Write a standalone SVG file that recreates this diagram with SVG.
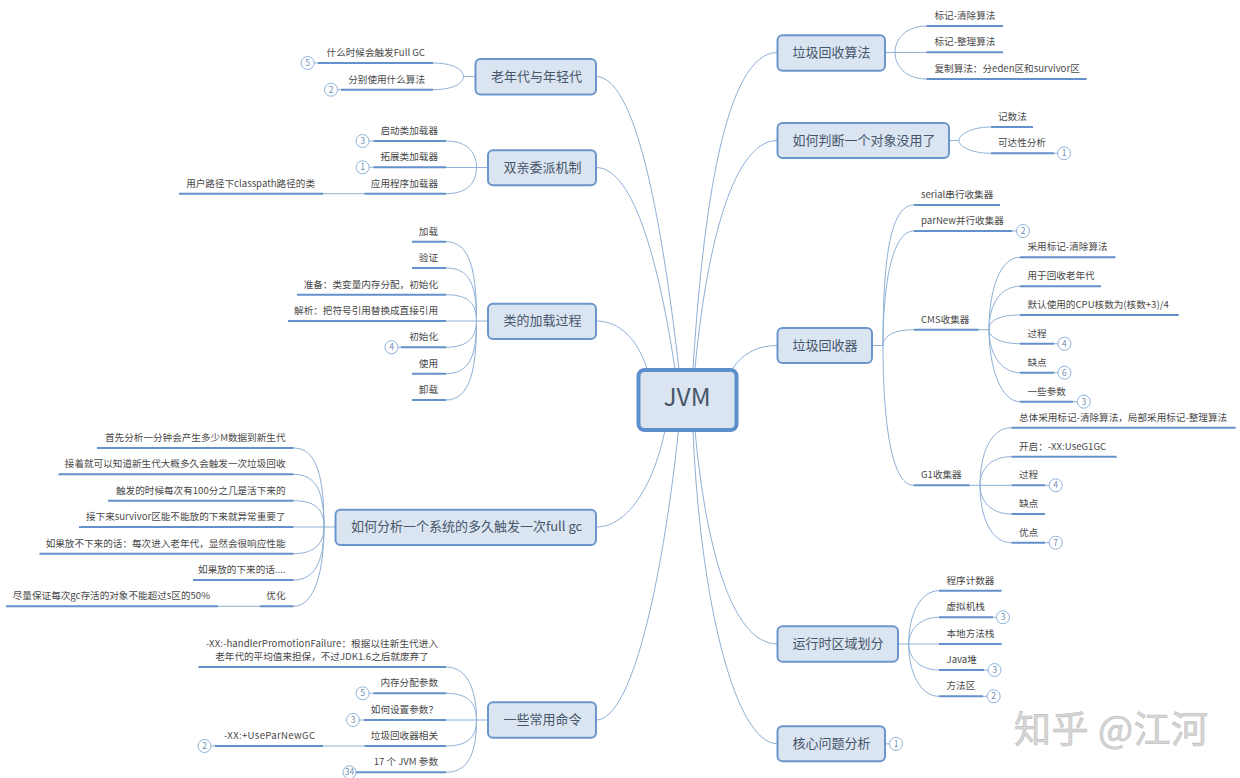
<svg xmlns="http://www.w3.org/2000/svg" width="1240" height="778" viewBox="0 0 1240 778">
<style>
text{font-family:"Noto Sans CJK SC","Noto Sans",sans-serif}
.c{fill:none;stroke:#8db0d6;stroke-width:1}
.b rect{fill:#dbe5f2;stroke:#6b96cb;stroke-width:2}
.b text{font-size:13px;fill:#46566a;text-anchor:start}
.l line{stroke:#6491cb;stroke-width:2}
.l text{font-size:9.6px;fill:#484848}
.e text{text-anchor:end}
.m circle{fill:#fff;stroke:#8fb3da;stroke-width:1}
.m text{font-size:8.5px;fill:#6f8fb3;text-anchor:middle}
</style>
<rect width="1240" height="778" fill="#fff"/>
<g id="connectors" class="c">
<path d="M679 369C665 250 640 76.5 596 76.5"/>
<path d="M675 369C660 270 635 167.5 596 167.5"/>
<path d="M647 369C638 340 620 321 596 321"/>
<path d="M665 430C655 480 630 527 596 527"/>
<path d="M678.5 430C665 560 635 720 596 720"/>
<path d="M693 369C703 210 725 52.5 777.5 52.5"/>
<path d="M695 369C705 260 730 140.5 777.5 140.5"/>
<path d="M732 369C742 355 755 345.5 777.5 345.5"/>
<path d="M695 430C705 540 730 644 777.5 644"/>
<path d="M693 430C700 600 735 743.8 777.5 743.8"/>
<path d="M475.5 76.5H463.5M463.5 76.5C463 69 452 63 433 63M463.5 76.5C463 84 452 89.7 433 89.7M314 63H318M337 89.7H341"/>
<path d="M488 167.5H476.5M476.5 167.5C476.5 155 470 141 446 141M476.5 167.5H446M476.5 167.5C476.5 180 470 193.7 446 193.7M364.5 193.7H323M369 141H373.5M369 167.3H373.5"/>
<path d="M488 321H476.5M476.5 321C476.5 270 470 241.7 446 241.7M476.5 321C476.5 285 470 268 446 268M476.5 321C476.5 305 470 294.7 446 294.7M476.5 321H446M476.5 321C476.5 335 470 347.3 446 347.3M476.5 321C476.5 355 470 373.7 446 373.7M476.5 321C476.5 370 470 400 446 400M398 347.3H401"/>
<path d="M335.5 527H324M324 527C324 480 318 448 293.5 448M324 527C324 495 318 474.3 293.5 474.3M324 527C324 512 318 500.7 293.5 500.7M324 527H293.5M324 527C324 540 318 553.7 293.5 553.7M324 527C324 555 318 580 293.5 580M324 527C324 570 315 606.3 293.5 606.3M260 606.3H218"/>
<path d="M488 720H476.5M476.5 720C476.5 695 470 667 446 667M476.5 720C476.5 705 470 693.3 446 693.3M476.5 720H446M476.5 720C476.5 735 470 746 446 746M476.5 720C476.5 750 470 772.3 446 772.3M364.5 746H323M369 693.3H373.5M359.5 720H364M211 746H215M353 772.3H356"/>
<path d="M885 52.5H895M895 52.5C895 40 905 26 926.5 26M895 52.5H926.5M895 52.5C895 65 905 79 926.5 79"/>
<path d="M949 140.5H959M959 140.5C959 135 970 127 991 127M959 140.5C959 146 970 153.3 991 153.3M1054 153.3H1057.5"/>
<path d="M872 345.5H883M883 345.5C883 265 889 205 913.8 205M883 345.5C883 285 892 231 913.8 231M883 345.5C883 337 892 329.7 913.8 329.7M883 345.5C883 415 890 485.3 913.8 485.3M1012 231H1016.5"/>
<path d="M978.6 329.7H989M989 329.7C989 290 1000 257.3 1020 257.3M989 329.7C989 305 1000 286.3 1020 286.3M989 329.7C989 320 1000 315 1020 315M989 329.7C989 337 1000 343.7 1020 343.7M989 329.7C989 352 1000 372.7 1020 372.7M989 329.7C989 365 1000 401.7 1020 401.7M1054 343.7H1058M1054 372.7H1058M1073 401.7H1077.5"/>
<path d="M969.5 485.3H980M980 485.3C980 455 990 427.7 1011.5 427.7M980 485.3C980 470 990 456.7 1011.5 456.7M980 485.3H1011.5M980 485.3C980 500 990 514 1011.5 514M980 485.3C980 515 990 542.7 1011.5 542.7M1045 485.3H1049M1045 542.7H1049"/>
<path d="M898 644H908.7M908.7 644C908.7 615 920 590.7 939 590.7M908.7 644C908.7 630 920 617.3 939 617.3M908.7 644H939M908.7 644C908.7 658 920 670 939 670M908.7 644C908.7 672 920 696.3 939 696.3M993 617.3H996.5M984 670H988M983 696.3H987"/>
<path d="M885 743.8H889.5"/>
</g>

<g id="jvm"><rect x="638.5" y="370" width="98" height="60" rx="6" fill="#dbe5f2" stroke="#5d8fcd" stroke-width="4"/><text x="687" y="406" font-size="24.5" fill="#46566a" text-anchor="middle">JVM</text></g>

<g id="b1" class="b"><rect x="475.5" y="59" width="120.5" height="35.5" rx="5"/><text x="491" y="80.5">老年代与年轻代</text></g>
<g id="b2" class="b"><rect x="488" y="150.3" width="108" height="35" rx="5"/><text x="503.5" y="171.5">双亲委派机制</text></g>
<g id="b3" class="b"><rect x="488" y="303.7" width="108" height="35.3" rx="5"/><text x="503.5" y="325">类的加载过程</text></g>
<g id="b4" class="b"><rect x="335.5" y="509.7" width="260.5" height="35.3" rx="5"/><text x="351" y="531">如何分析一个系统的多久触发一次full gc</text></g>
<g id="b5" class="b"><rect x="488" y="702.3" width="108" height="35.4" rx="5"/><text x="503.5" y="724">一些常用命令</text></g>
<g id="b6" class="b"><rect x="777.5" y="35.3" width="107.5" height="35.4" rx="5"/><text x="792.5" y="56.5">垃圾回收算法</text></g>
<g id="b7" class="b"><rect x="777.5" y="123" width="171.5" height="35" rx="5"/><text x="792.5" y="144.5">如何判断一个对象没用了</text></g>
<g id="b8" class="b"><rect x="777.5" y="328" width="94.5" height="35" rx="5"/><text x="792.5" y="349.5">垃圾回收器</text></g>
<g id="b9" class="b"><rect x="777.5" y="626.3" width="120.5" height="35.4" rx="5"/><text x="792.5" y="648">运行时区域划分</text></g>
<g id="b10" class="b"><rect x="777.5" y="726.3" width="107.5" height="35" rx="5"/><text x="792.5" y="747.8">核心问题分析</text></g>
<g id="m10" class="m"><circle cx="896" cy="743.8" r="6.5"/><text x="896" y="746.8">1</text></g>

<g id="l1" class="l e"><line x1="318" y1="63" x2="433" y2="63"/><text x="425" y="56">什么时候会触发Full GC</text></g>
<g id="m1" class="m"><circle cx="307.6" cy="63" r="6.5"/><text x="307.6" y="66">5</text></g>
<g id="l2" class="l e"><line x1="341" y1="89.7" x2="433" y2="89.7"/><text x="425" y="82.7">分别使用什么算法</text></g>
<g id="m2" class="m"><circle cx="331" cy="89.7" r="6.5"/><text x="331" y="92.7">2</text></g>

<g id="l3" class="l e"><line x1="373.5" y1="141" x2="446" y2="141"/><text x="438" y="134">启动类加载器</text></g>
<g id="m3" class="m"><circle cx="362.6" cy="141" r="6.5"/><text x="362.6" y="144">3</text></g>
<g id="l4" class="l e"><line x1="373.5" y1="167.3" x2="446" y2="167.3"/><text x="438" y="160.3">拓展类加载器</text></g>
<g id="m4" class="m"><circle cx="362.6" cy="167.3" r="6.5"/><text x="362.6" y="170.3">1</text></g>
<g id="l5" class="l e"><line x1="364.5" y1="193.7" x2="446" y2="193.7"/><text x="438" y="186.7">应用程序加载器</text></g>
<g id="l6" class="l e"><line x1="179" y1="193.7" x2="323" y2="193.7"/><text x="315" y="186.7">用户路径下classpath路径的类</text></g>

<g id="l7" class="l e"><line x1="412" y1="241.7" x2="446" y2="241.7"/><text x="438" y="234.7">加载</text></g>
<g id="l8" class="l e"><line x1="412" y1="268" x2="446" y2="268"/><text x="438" y="261">验证</text></g>
<g id="l9" class="l e"><line x1="297" y1="294.7" x2="446" y2="294.7"/><text x="438" y="287.7">准备：类变量内存分配，初始化</text></g>
<g id="l10" class="l e"><line x1="288" y1="321" x2="446" y2="321"/><text x="438" y="314">解析：把符号引用替换成直接引用</text></g>
<g id="l11" class="l e"><line x1="401" y1="347.3" x2="446" y2="347.3"/><text x="438" y="340.3">初始化</text></g>
<g id="m11" class="m"><circle cx="391.5" cy="347.3" r="6.5"/><text x="391.5" y="350.3">4</text></g>
<g id="l12" class="l e"><line x1="412" y1="373.7" x2="446" y2="373.7"/><text x="438" y="366.7">使用</text></g>
<g id="l13" class="l e"><line x1="412" y1="400" x2="446" y2="400"/><text x="438" y="393">卸载</text></g>

<g id="l14" class="l e"><line x1="97" y1="448" x2="293.5" y2="448"/><text x="285.5" y="441">首先分析一分钟会产生多少M数据到新生代</text></g>
<g id="l15" class="l e"><line x1="58.5" y1="474.3" x2="293.5" y2="474.3"/><text x="285.5" y="467.3">接着就可以知道新生代大概多久会触发一次垃圾回收</text></g>
<g id="l16" class="l e"><line x1="108" y1="500.7" x2="293.5" y2="500.7"/><text x="285.5" y="493.7">触发的时候每次有100分之几是活下来的</text></g>
<g id="l17" class="l e"><line x1="79" y1="527" x2="293.5" y2="527"/><text x="285.5" y="520">接下来survivor区能不能放的下来就异常重要了</text></g>
<g id="l18" class="l e"><line x1="39.5" y1="553.7" x2="293.5" y2="553.7"/><text x="285.5" y="546.7">如果放不下来的话：每次进入老年代，显然会很响应性能</text></g>
<g id="l19" class="l e"><line x1="193" y1="580" x2="293.5" y2="580"/><text x="285.5" y="573">如果放的下来的话....</text></g>
<g id="l20" class="l e"><line x1="260" y1="606.3" x2="293.5" y2="606.3"/><text x="285.5" y="599.3">优化</text></g>
<g id="l21" class="l e"><line x1="6" y1="606.3" x2="218" y2="606.3"/><text x="210" y="599.3">尽量保证每次gc存活的对象不能超过s区的50%</text></g>

<g id="l22" class="l"><line x1="198.5" y1="667" x2="446" y2="667"/><text x="438" y="647" text-anchor="end" textLength="232">-XX:-handlerPromotionFailure：根据以往新生代进入</text><text x="322" y="660" text-anchor="middle">老年代的平均值来担保，不过JDK1.6之后就废弃了</text></g>
<g id="l23" class="l e"><line x1="373.5" y1="693.3" x2="446" y2="693.3"/><text x="438" y="686.3">内存分配参数</text></g>
<g id="m23" class="m"><circle cx="362.6" cy="693.3" r="6.5"/><text x="362.6" y="696.3">5</text></g>
<g id="l24" class="l e"><line x1="364" y1="720" x2="446" y2="720"/><text x="438" y="713">如何设置参数？</text></g>
<g id="m24" class="m"><circle cx="353" cy="720" r="6.5"/><text x="353" y="723">3</text></g>
<g id="l25" class="l e"><line x1="364.5" y1="746" x2="446" y2="746"/><text x="438" y="739">垃圾回收器相关</text></g>
<g id="l26" class="l e"><line x1="215" y1="746" x2="323" y2="746"/><text x="315" y="739" textLength="91">-XX:+UseParNewGC</text></g>
<g id="m26" class="m"><circle cx="204.5" cy="746" r="6.5"/><text x="204.5" y="749">2</text></g>
<g id="l27" class="l e"><line x1="356" y1="772.3" x2="446" y2="772.3"/><text x="438" y="765.3">17 个 JVM 参数</text></g>
<g id="m27" class="m"><circle cx="349.5" cy="772.3" r="6.5"/><text x="349.5" y="775.3">34</text></g>

<g id="r1" class="l"><line x1="926.5" y1="26" x2="1003" y2="26"/><text x="934.5" y="19">标记-清除算法</text></g>
<g id="r2" class="l"><line x1="926.5" y1="52.3" x2="1003" y2="52.3"/><text x="934.5" y="45.3">标记-整理算法</text></g>
<g id="r3" class="l"><line x1="926.5" y1="79" x2="1086.6" y2="79"/><text x="934.5" y="72">复制算法：分eden区和survivor区</text></g>
<g id="r4" class="l"><line x1="991" y1="127" x2="1033" y2="127"/><text x="998" y="120">记数法</text></g>
<g id="r5" class="l"><line x1="991" y1="153.3" x2="1054" y2="153.3"/><text x="998" y="146.3">可达性分析</text></g>
<g id="mr5" class="m"><circle cx="1064" cy="153.3" r="6.5"/><text x="1064" y="156.3">1</text></g>

<g id="r6" class="l"><line x1="913.8" y1="205" x2="1000" y2="205"/><text x="921" y="198">serial串行收集器</text></g>
<g id="r7" class="l"><line x1="913.8" y1="231" x2="1012" y2="231"/><text x="921" y="224">parNew并行收集器</text></g>
<g id="mr7" class="m"><circle cx="1023" cy="231" r="6.5"/><text x="1023" y="234">2</text></g>
<g id="r8" class="l"><line x1="913.8" y1="329.7" x2="978.6" y2="329.7"/><text x="921" y="322.7">CMS收集器</text></g>
<g id="r9" class="l"><line x1="1020" y1="257.3" x2="1115.5" y2="257.3"/><text x="1027.5" y="250.3">采用标记-清除算法</text></g>
<g id="r10" class="l"><line x1="1020" y1="286.3" x2="1101" y2="286.3"/><text x="1027.5" y="279.3">用于回收老年代</text></g>
<g id="r11" class="l"><line x1="1020" y1="315" x2="1178.7" y2="315"/><text x="1027.5" y="308">默认使用的CPU核数为(核数+3)/4</text></g>
<g id="r12" class="l"><line x1="1020" y1="343.7" x2="1054" y2="343.7"/><text x="1027.5" y="336.7">过程</text></g>
<g id="mr12" class="m"><circle cx="1064.4" cy="343.7" r="6.5"/><text x="1064.4" y="346.7">4</text></g>
<g id="r13" class="l"><line x1="1020" y1="372.7" x2="1054" y2="372.7"/><text x="1027.5" y="365.7">缺点</text></g>
<g id="mr13" class="m"><circle cx="1064.4" cy="372.7" r="6.5"/><text x="1064.4" y="375.7">6</text></g>
<g id="r14" class="l"><line x1="1020" y1="401.7" x2="1073" y2="401.7"/><text x="1027.5" y="394.7">一些参数</text></g>
<g id="mr14" class="m"><circle cx="1083.8" cy="401.7" r="6.5"/><text x="1083.8" y="404.7">3</text></g>

<g id="r15" class="l"><line x1="913.8" y1="485.3" x2="969.5" y2="485.3"/><text x="921" y="478.3">G1收集器</text></g>
<g id="r16" class="l"><line x1="1011.5" y1="427.7" x2="1235.6" y2="427.7"/><text x="1019" y="420.7">总体采用标记-清除算法，局部采用标记-整理算法</text></g>
<g id="r17" class="l"><line x1="1011.5" y1="456.7" x2="1116.6" y2="456.7"/><text x="1019" y="449.7">开启：-XX:UseG1GC</text></g>
<g id="r18" class="l"><line x1="1011.5" y1="485.3" x2="1045" y2="485.3"/><text x="1019" y="478.3">过程</text></g>
<g id="mr18" class="m"><circle cx="1055.7" cy="485.3" r="6.5"/><text x="1055.7" y="488.3">4</text></g>
<g id="r19" class="l"><line x1="1011.5" y1="514" x2="1045" y2="514"/><text x="1019" y="507">缺点</text></g>
<g id="r20" class="l"><line x1="1011.5" y1="542.7" x2="1045" y2="542.7"/><text x="1019" y="535.7">优点</text></g>
<g id="mr20" class="m"><circle cx="1055.7" cy="542.7" r="6.5"/><text x="1055.7" y="545.7">7</text></g>

<g id="r21" class="l"><line x1="939" y1="590.7" x2="1001.6" y2="590.7"/><text x="946.5" y="583.7">程序计数器</text></g>
<g id="r22" class="l"><line x1="939" y1="617.3" x2="993" y2="617.3"/><text x="946.5" y="610.3">虚拟机栈</text></g>
<g id="mr22" class="m"><circle cx="1003" cy="617.3" r="6.5"/><text x="1003" y="620.3">3</text></g>
<g id="r23" class="l"><line x1="939" y1="644" x2="1001.6" y2="644"/><text x="946.5" y="637">本地方法栈</text></g>
<g id="r24" class="l"><line x1="939" y1="670" x2="984" y2="670"/><text x="946.5" y="663">Java堆</text></g>
<g id="mr24" class="m"><circle cx="994.5" cy="670" r="6.5"/><text x="994.5" y="673">3</text></g>
<g id="r25" class="l"><line x1="939" y1="696.3" x2="983" y2="696.3"/><text x="946.5" y="689.3">方法区</text></g>
<g id="mr25" class="m"><circle cx="993.7" cy="696.3" r="6.5"/><text x="993.7" y="699.3">2</text></g>

<text id="watermark" x="1014" y="743" font-size="37" font-weight="400" fill="#d6d6d6" stroke="#bdbdbd" stroke-width="0.6" textLength="194">知乎 @江河</text>
</svg>
